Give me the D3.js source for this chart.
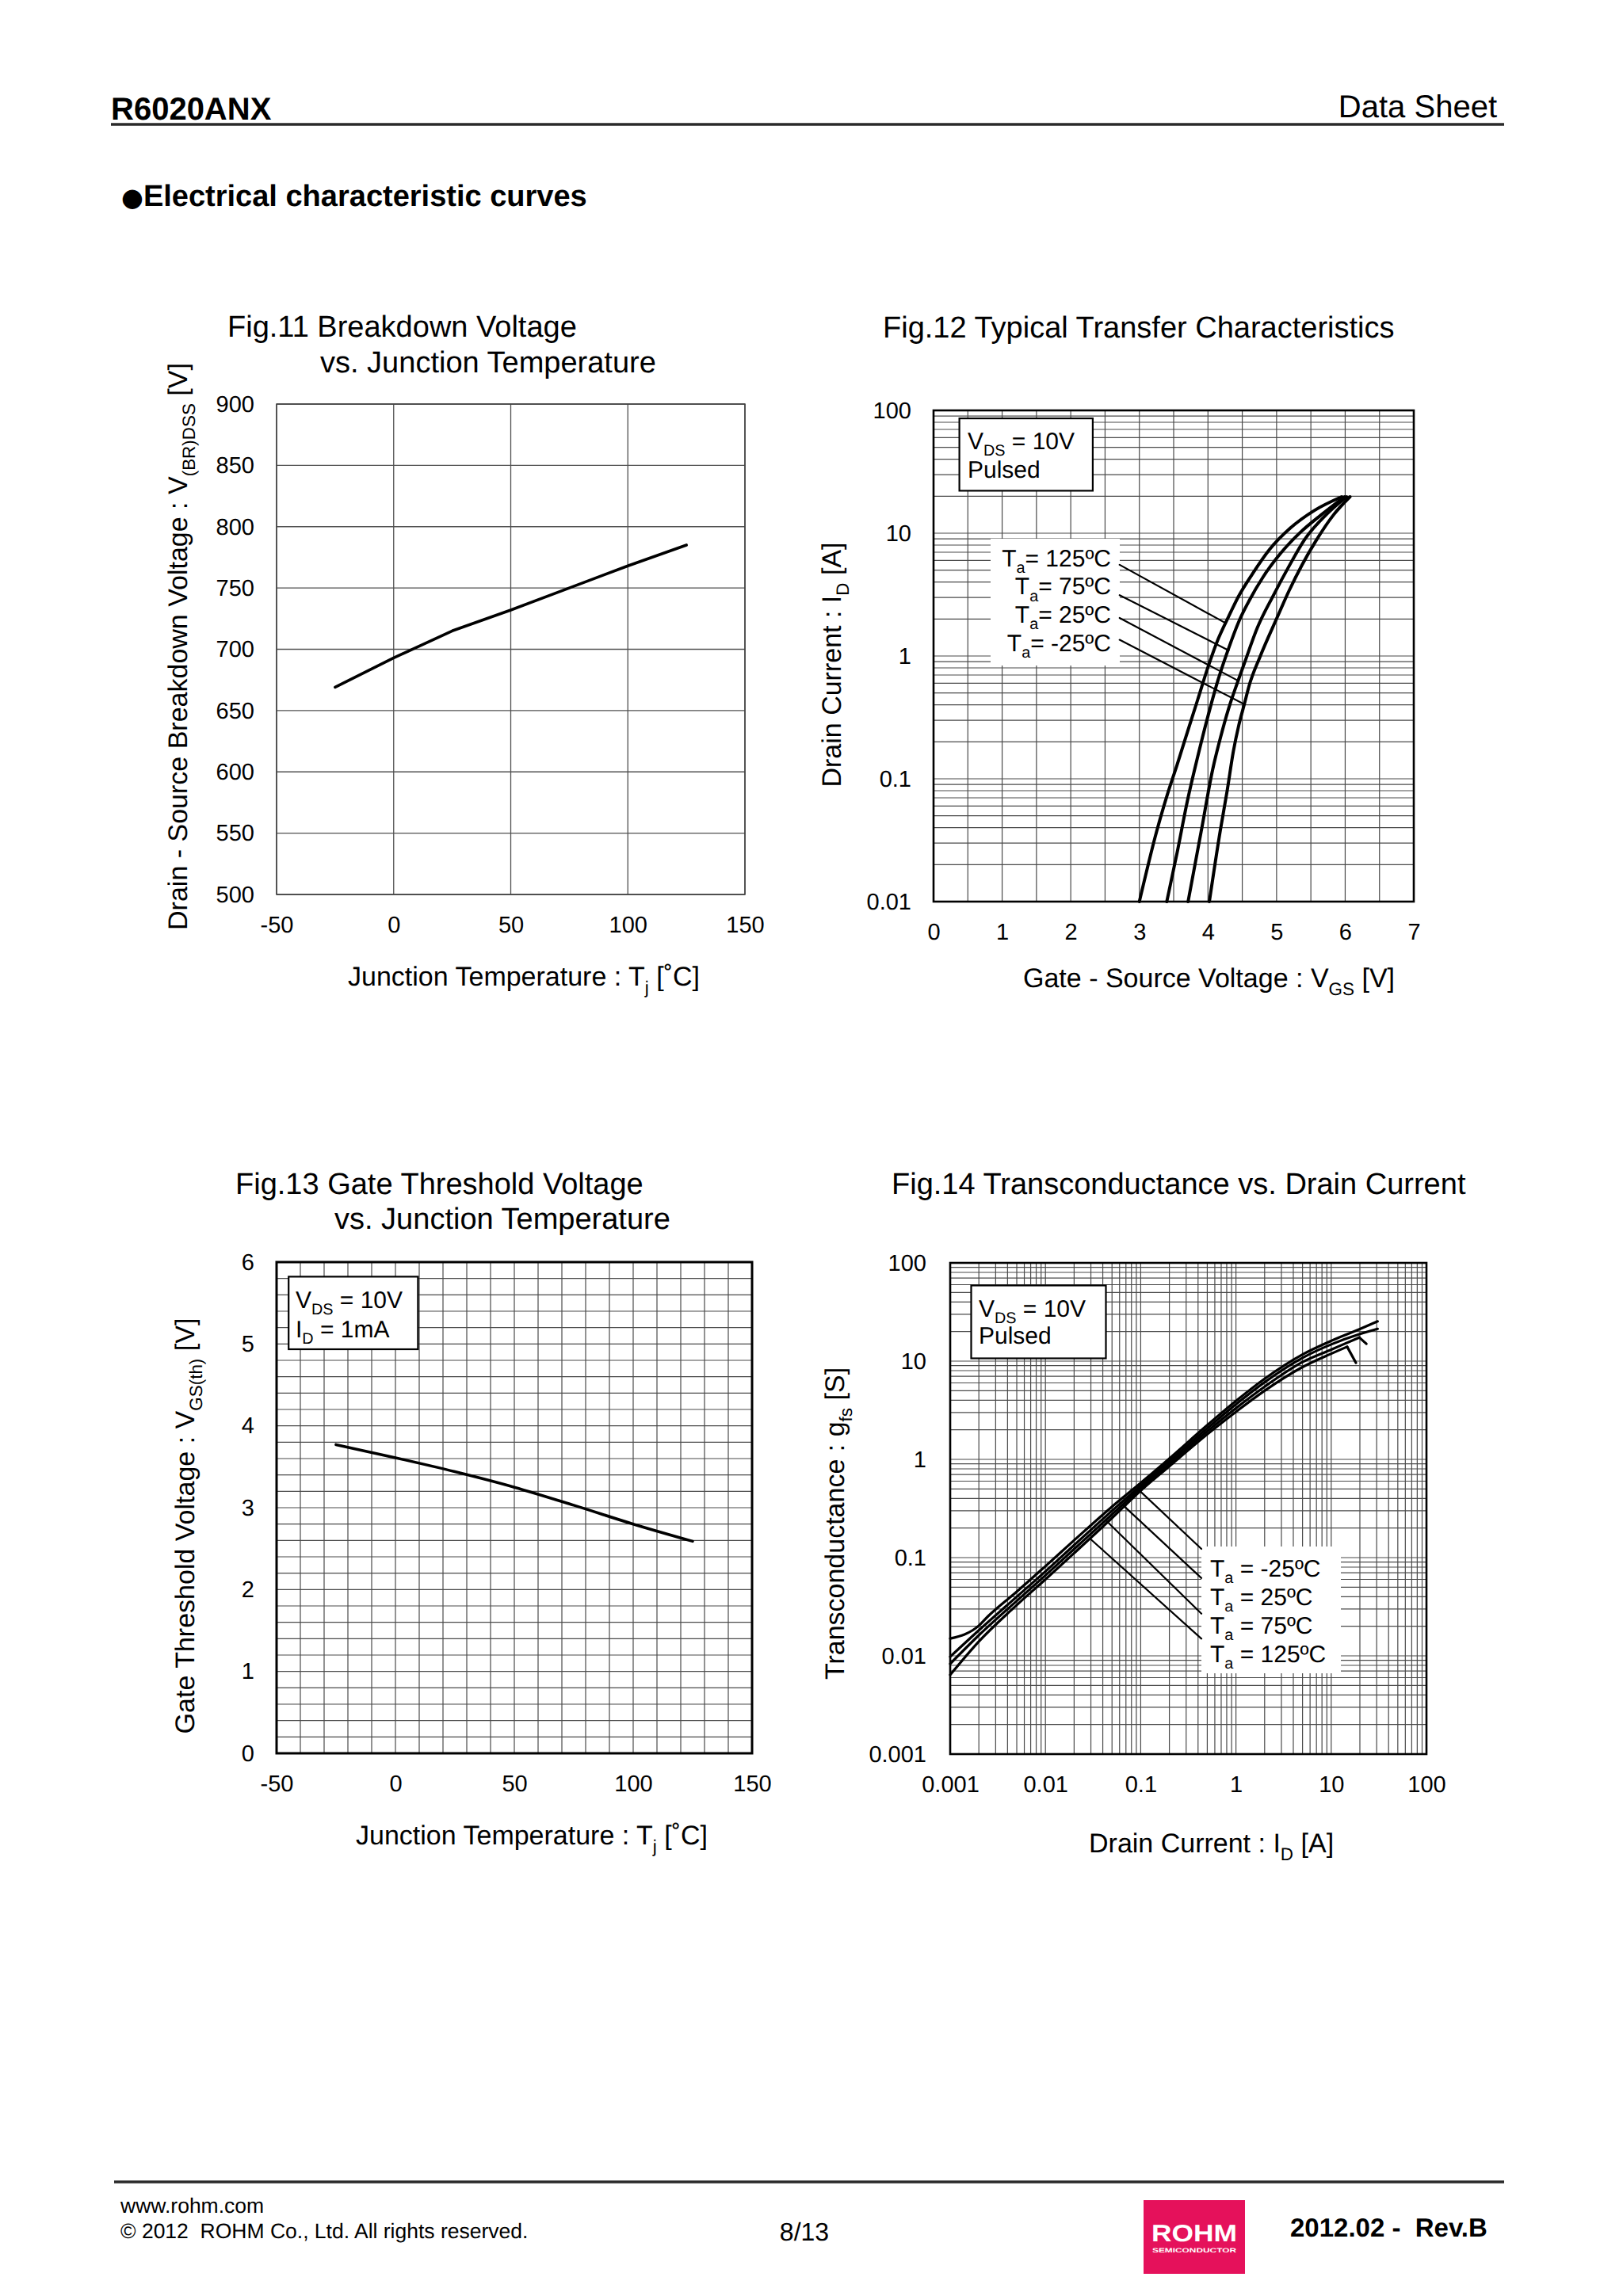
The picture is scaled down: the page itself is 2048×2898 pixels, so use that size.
<!DOCTYPE html>
<html>
<head>
<meta charset="utf-8">
<title>R6020ANX Electrical characteristic curves</title>
<script src="https://cdn.jsdelivr.net/npm/d3@7/dist/d3.min.js"></script>
<style>
  html, body { margin:0; padding:0; background:#ffffff; }
  svg { display:block; }
  svg text { white-space: pre; }
</style>
</head>
<body>
<svg id="page" width="2048" height="2898" xmlns="http://www.w3.org/2000/svg"></svg>
<script>
// ================= DATA =================
// Fig.11 Breakdown Voltage vs. Junction Temperature
const fig11Tj  = [-25, 0, 25, 50, 75, 100, 125];
const fig11Vbr = [669, 693, 715, 732, 750, 768, 785];
const fig11XTicks = [-50, 0, 50, 100, 150];
const fig11YTicks = [500, 550, 600, 650, 700, 750, 800, 850, 900];

// Fig.12 Typical Transfer Characteristics (VGS [V], ID [A])
const fig12XTicks = [0, 1, 2, 3, 4, 5, 6, 7];
const fig12YTicks = [0.01, 0.1, 1, 10, 100];
const fig12Vgs125 = [3.00, 3.25, 3.40, 3.55, 3.70, 3.85, 4.00, 4.15, 4.30, 4.45, 4.65, 4.90, 5.20, 5.55, 5.95];
const fig12Id125  = [0.010, 0.037, 0.072, 0.13, 0.24, 0.44, 0.81, 1.38, 2.09, 3.09, 4.68, 7.4, 11.0, 15.3, 19.8];
const fig12Vgs75  = [3.40, 3.55, 3.70, 3.85, 4.00, 4.15, 4.30, 4.45, 4.60, 4.80, 5.05, 5.35, 5.65, 5.99];
const fig12Id75   = [0.010, 0.025, 0.066, 0.151, 0.324, 0.646, 1.15, 1.91, 2.82, 4.37, 6.76, 10.2, 14.1, 19.8];
const fig12Vgs25  = [3.71, 3.90, 4.07, 4.18, 4.30, 4.44, 4.53, 4.72, 4.95, 5.18, 5.41, 5.76, 6.02];
const fig12Id25   = [0.010, 0.037, 0.120, 0.214, 0.372, 0.631, 0.871, 1.70, 3.09, 5.37, 8.9, 14.8, 19.8];
const fig12VgsM25 = [4.02, 4.18, 4.28, 4.37, 4.45, 4.53, 4.60, 4.76, 5.01, 5.18, 5.37, 5.57, 5.83, 6.07];
const fig12IdM25  = [0.010, 0.038, 0.080, 0.167, 0.274, 0.405, 0.573, 0.99, 2.07, 3.38, 5.5, 8.6, 14.1, 19.8];
const fig12Labels = ["125ºC", "75ºC", "25ºC", "-25ºC"];
const fig12LeaderStartVgs = 2.712;
const fig12LeaderStartId  = [5.53, 3.13, 2.04, 1.355];
const fig12LeaderEndVgs   = [4.245, 4.302, 4.438, 4.526];
const fig12LeaderEndId    = [1.87, 1.11, 0.63, 0.405];

// Fig.13 Gate Threshold Voltage vs. Junction Temperature
const fig13Tj  = [-25, 0, 25, 50, 75, 100, 125];
const fig13Vth = [3.77, 3.61, 3.44, 3.25, 3.03, 2.80, 2.59];
const fig13XTicks = [-50, 0, 50, 100, 150];
const fig13YTicks = [0, 1, 2, 3, 4, 5, 6];

// Fig.14 Transconductance vs. Drain Current (ID [A], gfs [S])
const fig14Ticks = [0.001, 0.01, 0.1, 1, 10, 100];
const fig14IdM25  = [0.001, 0.002, 0.0025, 0.005, 0.01, 0.02, 0.05, 0.1, 0.2, 0.5, 1, 2, 5, 10, 20, 30.7];
const fig14GfsM25 = [0.0150, 0.0203, 0.0253, 0.045, 0.0818, 0.150, 0.330, 0.575, 1.02, 2.23, 3.93, 6.62, 11.7, 16.1, 21.2, 25.4];
const fig14Id25   = [0.001, 0.002, 0.005, 0.01, 0.02, 0.05, 0.1, 0.2, 0.5, 1, 2, 5, 10, 20, 30.7];
const fig14Gfs25  = [0.0098, 0.0182, 0.040, 0.0724, 0.134, 0.300, 0.540, 0.96, 2.07, 3.63, 6.1, 10.8, 14.8, 18.9, 21.3];
const fig14Id75   = [0.001, 0.002, 0.005, 0.01, 0.02, 0.05, 0.1, 0.2, 0.5, 1, 2, 5, 10, 19.7];
const fig14Gfs75  = [0.0083, 0.0162, 0.0363, 0.066, 0.122, 0.275, 0.510, 0.90, 1.93, 3.32, 5.5, 9.8, 13.1, 17.4];
const fig14Hook75Id  = [19.7, 23.4];
const fig14Hook75Gfs = [17.4, 15.0];
const fig14Id125  = [0.001, 0.002, 0.005, 0.01, 0.02, 0.05, 0.1, 0.2, 0.5, 1, 2, 5, 10, 14.7];
const fig14Gfs125 = [0.0064, 0.0140, 0.0329, 0.060, 0.111, 0.253, 0.480, 0.85, 1.80, 3.05, 5.0, 8.7, 11.9, 14.0];
const fig14Hook125Id  = [14.7, 18.2];
const fig14Hook125Gfs = [14.0, 9.6];
const fig14Labels = ["-25ºC", "25ºC", "75ºC", "125ºC"];
const fig14LeaderStartId  = 0.434;
const fig14LeaderStartGfs = [0.1225, 0.0619, 0.0269, 0.01496];
const fig14LeaderEndId    = [0.098, 0.0656, 0.0442, 0.0292];
const fig14LeaderEndGfs   = [0.477, 0.34, 0.234, 0.157];

// ================= DRAWING =================
const svg = d3.select('#page');
const FONT = "'Liberation Sans', Arial, Helvetica, sans-serif";
svg.attr('font-family', FONT).attr('text-rendering', 'geometricPrecision');
svg.append('rect').attr('width', 2048).attr('height', 2898).attr('fill', '#fff');

function rich(t, parts, size) {
  let down = false;
  parts.forEach(p => {
    const s = t.append('tspan');
    if (typeof p === 'string') {
      s.text(p).attr('font-size', size);
      if (down) { s.attr('dy', -size * 0.28); down = false; }
    } else {
      s.text(p.sub).attr('font-size', size * 0.66).attr('dy', size * 0.28);
      down = true;
    }
  });
  return t;
}
function label(parent, x, y, parts, size, opts = {}) {
  const t = parent.append('text').attr('x', x).attr('y', y).attr('fill', '#000')
    .attr('font-size', size).attr('text-anchor', opts.anchor || 'start')
    .attr('font-weight', opts.weight || 'normal').attr('xml:space', 'preserve');
  if (opts.rotate) t.attr('transform', `rotate(-90 ${x} ${y})`);
  return rich(t, parts, size);
}
function logGrid(lo, hi) {
  const out = [];
  for (let e = Math.round(Math.log10(lo)); e < Math.round(Math.log10(hi)); e++)
    for (let k = 1; k <= 9; k++) out.push(k * Math.pow(10, e));
  out.push(hi);
  return out;
}
function zip(a, b) { return a.map((v, i) => [v, b[i]]); }

function panel(cfg) {
  const g = svg.append('g').attr('transform', `translate(${cfg.left},${cfg.top})`);
  const x = cfg.x.range([0, cfg.w]);
  const y = cfg.y.range([cfg.h, 0]);
  const gc = cfg.gridColor || '#4a4a4a', gw = cfg.gridWidth || 1.2;
  g.append('g').selectAll('line').data(cfg.gx).join('line')
    .attr('x1', d => x(d)).attr('x2', d => x(d)).attr('y1', 0).attr('y2', cfg.h)
    .attr('stroke', gc).attr('stroke-width', gw);
  g.append('g').selectAll('line').data(cfg.gy).join('line')
    .attr('y1', d => y(d)).attr('y2', d => y(d)).attr('x1', 0).attr('x2', cfg.w)
    .attr('stroke', gc).attr('stroke-width', gw);
  const fmt = d => String(d);
  const ax = g.append('g').attr('transform', `translate(0,${cfg.h})`)
    .call(d3.axisBottom(x).tickValues(cfg.xt).tickSize(0).tickPadding(27).tickFormat(fmt));
  const ay = g.append('g')
    .call(d3.axisLeft(y).tickValues(cfg.yt).tickSize(0).tickPadding(cfg.ypad || 28).tickFormat(fmt));
  [ax, ay].forEach(a => {
    a.select('.domain').remove();
    a.attr('font-family', FONT).attr('font-size', 29);
    a.selectAll('text').attr('fill', '#000');
  });
  const layer = g.append('g');
  const p = { g: layer, x, y, w: cfg.w, h: cfg.h };
  p.border = (bw, col) => g.append('rect').attr('x', 0).attr('y', 0).attr('width', cfg.w).attr('height', cfg.h)
    .attr('fill', 'none').attr('stroke', col).attr('stroke-width', bw);
  return p;
}
function curve(p, xs, ys, width, interp) {
  const line = d3.line().x(d => p.x(d[0])).y(d => p.y(d[1])).curve(interp || d3.curveMonotoneX);
  p.g.append('path').attr('d', line(zip(xs, ys))).attr('fill', 'none').attr('stroke', '#000')
    .attr('stroke-width', width).attr('stroke-linejoin', 'round').attr('stroke-linecap', 'round');
}
function seg(p, x1, y1, x2, y2, width) {
  p.g.append('line').attr('x1', p.x(x1)).attr('y1', p.y(y1)).attr('x2', p.x(x2)).attr('y2', p.y(y2))
    .attr('stroke', '#000').attr('stroke-width', width).attr('stroke-linecap', 'round');
}
function box(p, x, y, w, h, stroke) {
  p.g.append('rect').attr('x', x).attr('y', y).attr('width', w).attr('height', h)
    .attr('fill', '#fff').attr('stroke', stroke ? '#000' : 'none').attr('stroke-width', 2.2);
}

// ---------- Header ----------
label(svg, 140, 151, ['R6020ANX'], 40, { weight: 'bold' });
label(svg, 1889, 148, ['Data Sheet'], 40, { anchor: 'end' });
svg.append('line').attr('x1', 140).attr('x2', 1898).attr('y1', 157).attr('y2', 157).attr('stroke', '#2a2a2a').attr('stroke-width', 3.5);
svg.append('text').attr('x', 153).attr('y', 260).attr('font-size', 38).attr('font-weight', 'bold').attr('fill', '#000')
  .call(t => { t.append('tspan').text('●').attr('font-size', 32).attr('font-family', "'DejaVu Sans', sans-serif");
               t.append('tspan').text('Electrical characteristic curves'); });

// ---------- Fig.11 ----------
label(svg, 287, 425, ['Fig.11 Breakdown Voltage'], 38);
label(svg, 404, 470, ['vs. Junction Temperature'], 38);
const p11 = panel({ left: 349, top: 510, w: 591, h: 619,
  x: d3.scaleLinear().domain([-50, 150]), y: d3.scaleLinear().domain([500, 900]),
  gx: fig11XTicks, gy: fig11YTicks, xt: fig11XTicks, yt: fig11YTicks,
  gridColor: '#505050', gridWidth: 1.3 });
p11.border(1.5, '#404040');
curve(p11, fig11Tj, fig11Vbr, 3.6, d3.curveLinear);
label(svg, 439, 1244, ['Junction Temperature : T', { sub: 'j' }, ' [˚C]'], 34);
label(svg, 236, 816, ['Drain - Source Breakdown Voltage : V', { sub: '(BR)DSS' }, ' [V]'], 34, { rotate: true, anchor: 'middle' });

// ---------- Fig.12 ----------
label(svg, 1114, 426, ['Fig.12 Typical Transfer Characteristics'], 38);
const p12 = panel({ left: 1178, top: 518, w: 606, h: 620,
  x: d3.scaleLinear().domain([0, 7]), y: d3.scaleLog().domain([0.01, 100]),
  gx: d3.range(0, 7.001, 0.5), gy: logGrid(0.01, 100), xt: fig12XTicks, yt: fig12YTicks });
box(p12, 72, 162, 163, 160, false);
box(p12, 32.6, 10.1, 168.3, 91.3, true);
label(p12.g, 43, 48.6, ['V', { sub: 'DS' }, ' = 10V'], 30);
label(p12.g, 43, 84.7, ['Pulsed'], 30);
[[fig12Vgs125, fig12Id125], [fig12Vgs75, fig12Id75], [fig12Vgs25, fig12Id25], [fig12VgsM25, fig12IdM25]]
  .forEach(s => curve(p12, s[0], s[1], 4));
fig12Labels.forEach((t, i) => {
  label(p12.g, 224, 196.7 + i * 35.6, ['T', { sub: 'a' }, '= ' + t], 30, { anchor: 'end' });
  seg(p12, fig12LeaderStartVgs, fig12LeaderStartId[i], fig12LeaderEndVgs[i], fig12LeaderEndId[i], 2.2);
});
p12.border(2.6, '#000');
label(svg, 1291, 1246, ['Gate - Source Voltage : V', { sub: 'GS' }, ' [V]'], 34);
label(svg, 1061, 839, ['Drain Current : I', { sub: 'D' }, ' [A]'], 34, { rotate: true, anchor: 'middle' });

// ---------- Fig.13 ----------
label(svg, 297, 1507, ['Fig.13 Gate Threshold Voltage'], 38);
label(svg, 422, 1551, ['vs. Junction Temperature'], 38);
const p13 = panel({ left: 349, top: 1593, w: 600, h: 620,
  x: d3.scaleLinear().domain([-50, 150]), y: d3.scaleLinear().domain([0, 6]),
  gx: d3.range(-50, 150.001, 10), gy: d3.range(0, 30.5, 1).map(v => v / 5),
  xt: fig13XTicks, yt: fig13YTicks });
box(p13, 15.2, 18.4, 163.2, 91.6, true);
label(p13.g, 24, 57.7, ['V', { sub: 'DS' }, ' = 10V'], 30);
label(p13.g, 24, 94.7, ['I', { sub: 'D' }, ' = 1mA'], 30);
curve(p13, fig13Tj, fig13Vth, 3.6);
p13.border(3, '#000');
label(svg, 449, 2328, ['Junction Temperature : T', { sub: 'j' }, ' [˚C]'], 34);
label(svg, 245, 1926, ['Gate Threshold Voltage : V', { sub: 'GS(th)' }, ' [V]'], 34, { rotate: true, anchor: 'middle' });

// ---------- Fig.14 ----------
label(svg, 1125, 1507, ['Fig.14 Transconductance vs. Drain Current'], 38);
const p14 = panel({ left: 1199, top: 1594, w: 601, h: 620,
  x: d3.scaleLog().domain([0.001, 100]), y: d3.scaleLog().domain([0.001, 100]),
  gx: logGrid(0.001, 100), gy: logGrid(0.001, 100), xt: fig14Ticks, yt: fig14Ticks, ypad: 30 });
box(p14, 317, 358, 176, 160, false);
box(p14, 26.5, 28.5, 170, 92, true);
label(p14.g, 36, 68, ['V', { sub: 'DS' }, ' = 10V'], 30);
label(p14.g, 36, 102, ['Pulsed'], 30);
[[fig14IdM25, fig14GfsM25], [fig14Id25, fig14Gfs25], [fig14Id75, fig14Gfs75], [fig14Id125, fig14Gfs125],
 [fig14Hook75Id, fig14Hook75Gfs], [fig14Hook125Id, fig14Hook125Gfs]]
  .forEach((s, i) => curve(p14, s[0], s[1], 3.2, i >= 4 ? d3.curveLinear : d3.curveMonotoneX));
fig14Labels.forEach((t, i) => {
  label(p14.g, 328, 396 + i * 36, ['T', { sub: 'a' }, ' = ' + t], 30);
  seg(p14, fig14LeaderStartId, fig14LeaderStartGfs[i], fig14LeaderEndId[i], fig14LeaderEndGfs[i], 2.2);
});
p14.border(2.6, '#000');
label(svg, 1374, 2338, ['Drain Current : I', { sub: 'D' }, ' [A]'], 34);
label(svg, 1065, 1923, ['Transconductance : g', { sub: 'fs' }, ' [S]'], 34, { rotate: true, anchor: 'middle' });

// ---------- Footer ----------
svg.append('line').attr('x1', 144).attr('x2', 1898).attr('y1', 2754).attr('y2', 2754).attr('stroke', '#2a2a2a').attr('stroke-width', 3.5);
label(svg, 152, 2793, ['www.rohm.com'], 26.5);
label(svg, 152, 2825, ['© 2012  ROHM Co., Ltd. All rights reserved.'], 26.5);
label(svg, 1015, 2828, ['8/13'], 32, { anchor: 'middle' });
svg.append('rect').attr('x', 1443).attr('y', 2777).attr('width', 128).attr('height', 93).attr('fill', '#e5115b');
svg.append('text').attr('x', 1507).attr('y', 2829).attr('text-anchor', 'middle').attr('font-size', 30)
  .attr('font-weight', 'bold').attr('fill', '#fff').attr('textLength', 108).attr('lengthAdjust', 'spacingAndGlyphs').text('ROHM');
svg.append('text').attr('x', 1507).attr('y', 2843).attr('text-anchor', 'middle').attr('font-size', 8)
  .attr('font-weight', 'bold').attr('fill', '#fff').attr('textLength', 106).attr('lengthAdjust', 'spacingAndGlyphs').text('SEMICONDUCTOR');
label(svg, 1628, 2823, ['2012.02 -  Rev.B'], 33, { weight: 'bold' });
</script>
</body>
</html>
